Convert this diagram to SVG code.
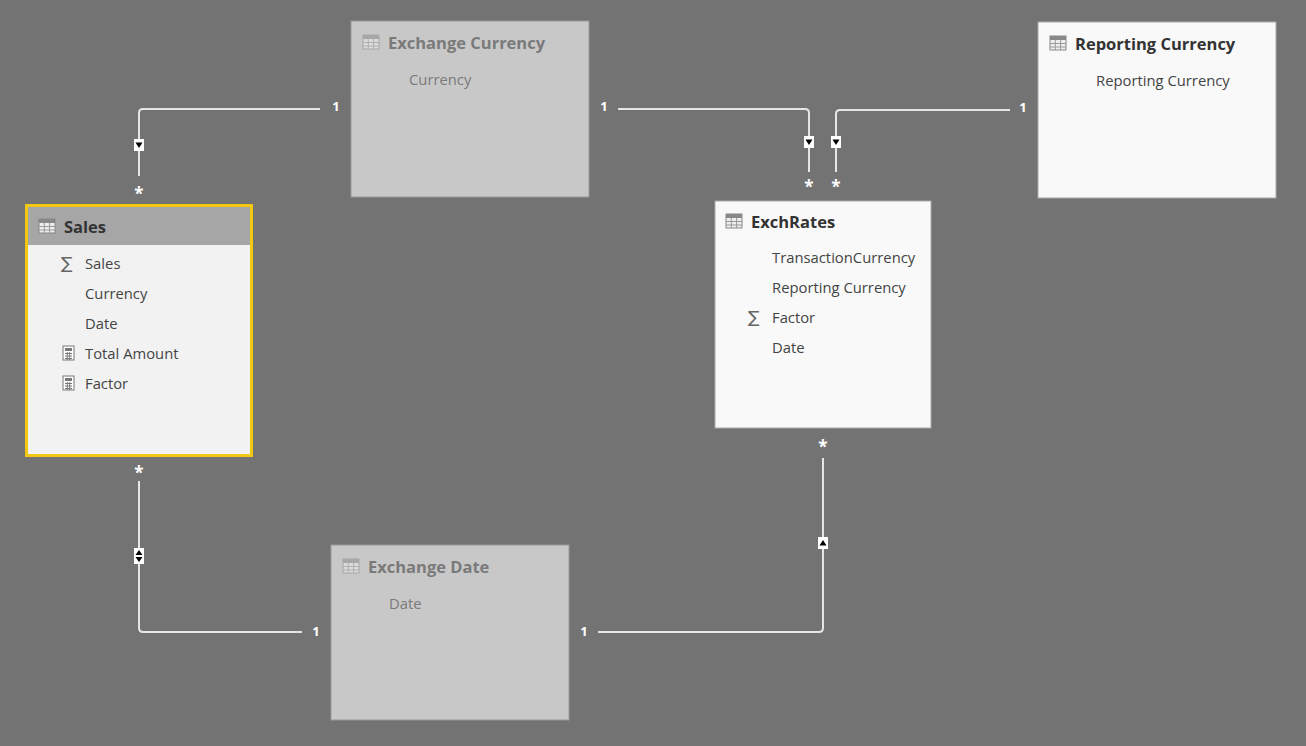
<svg xmlns="http://www.w3.org/2000/svg" width="1306" height="746" viewBox="0 0 1306 746">
<style>
.t{font-family:"Open Sans","Noto Sans",sans-serif;}
.title{font-size:16.5px;font-weight:bold;fill:#333;}
.dim .title{fill:#7a7a7a;}
.f{font-size:14.8px;fill:#444;}
.dim .f{fill:#7a7a7a;}
.ln{fill:none;stroke:#e6e6e6;stroke-width:2;}
.lbl{font-family:"Open Sans","Noto Sans",sans-serif;font-size:13px;font-weight:bold;fill:#fff;text-anchor:middle;}
.st{font-size:17px;}
</style>
<defs>
<g id="tbl"><rect x="0" y="0" width="16" height="14" fill="#eee" stroke="#888"/><rect x="0" y="0" width="16" height="4" fill="#888"/><path d="M0 7.5H16M0 11H16M5.3 4V14M10.6 4V14" stroke="#999" stroke-width="1"/></g>
<g id="calc"><rect x="0" y="0" width="11" height="14" fill="#fff" stroke="#777"/><rect x="2" y="2" width="7" height="3" fill="#777"/><path d="M2 7.5H9M2 10H9M2 12.5H9M4.3 6V14M6.7 6V14" stroke="#777"/></g>
<g id="dn"><rect x="-5" y="-6" width="10" height="12" fill="#fff"/><path d="M-3.5 -2.5H3.5L0 3Z" fill="#000"/></g>
<g id="up"><rect x="-5" y="-6" width="10" height="12" fill="#fff"/><path d="M-3.5 2.5H3.5L0 -3Z" fill="#000"/></g>
</defs>
<rect width="1306" height="746" fill="#737373"/>
<g id="connectors">
<path class="ln" d="M320 109H143Q139 109 139 113V176"/>
<use href="#dn" x="139" y="145"/>
<text class="lbl" x="336" y="111">1</text><text class="lbl st" x="139" y="200">*</text>
<path class="ln" d="M618 109H805Q809 109 809 113V172"/>
<use href="#dn" x="809" y="142"/>
<text class="lbl" x="604" y="111">1</text><text class="lbl st" x="809" y="193">*</text>
<path class="ln" d="M1010 110H840Q836 110 836 114V172"/>
<use href="#dn" x="836" y="142"/>
<text class="lbl" x="1023" y="112">1</text><text class="lbl st" x="836" y="193">*</text>
<path class="ln" d="M139 481V628Q139 632 143 632H302"/>
<g transform="translate(139 556)"><rect x="-5" y="-8" width="10" height="16" fill="#fff"/><path d="M-3.5 -1H3.5L0 -6Z M-3.5 1H3.5L0 6Z" fill="#000"/></g>
<text class="lbl st" x="139" y="479">*</text><text class="lbl" x="316" y="636">1</text>
<path class="ln" d="M598 632H819Q823 632 823 628V458"/>
<use href="#up" x="823" y="543"/>
<text class="lbl" x="584" y="636">1</text><text class="lbl st" x="823" y="453">*</text>
</g>
<g id="exchange-currency" class="t dim">
<rect x="351" y="21" width="238" height="176" fill="#c8c8c8" stroke="#999"/>
<use href="#tbl" x="363" y="35" opacity="0.5"/>
<text class="title" x="388" y="49">Exchange Currency</text>
<text class="f" x="409" y="85">Currency</text>
</g>
<g id="reporting-currency" class="t">
<rect x="1038" y="22" width="238" height="176" fill="#f9f9f9" stroke="#aaa"/>
<use href="#tbl" x="1050" y="36"/>
<text class="title" x="1075" y="50">Reporting Currency</text>
<text class="f" x="1096" y="86">Reporting Currency</text>
</g>
<g id="sales" class="t">
<rect x="26.5" y="205.5" width="225" height="250" fill="#f2f2f2" stroke="#f2c811" stroke-width="3"/>
<rect x="28" y="207" width="222" height="38" fill="#a6a6a6"/>
<use href="#tbl" x="39" y="219"/>
<text class="title" x="64" y="233">Sales</text>
<text x="61" y="269" style="font-family:'DejaVu Sans',sans-serif;font-size:17px;fill:#666">∑</text>
<text class="f" x="85" y="269">Sales</text>
<text class="f" x="85" y="299">Currency</text>
<text class="f" x="85" y="329">Date</text>
<use href="#calc" x="63" y="346"/>
<text class="f" x="85" y="359">Total Amount</text>
<use href="#calc" x="63" y="376"/>
<text class="f" x="85" y="389">Factor</text>
</g>
<g id="exchrates" class="t">
<rect x="715" y="201" width="216" height="227" fill="#f9f9f9" stroke="#aaa"/>
<use href="#tbl" x="726" y="214"/>
<text class="title" x="751" y="228">ExchRates</text>
<text class="f" x="772" y="263">TransactionCurrency</text>
<text class="f" x="772" y="293">Reporting Currency</text>
<text x="748" y="323" style="font-family:'DejaVu Sans',sans-serif;font-size:17px;fill:#666">∑</text>
<text class="f" x="772" y="323">Factor</text>
<text class="f" x="772" y="353">Date</text>
</g>
<g id="exchange-date" class="t dim">
<rect x="331" y="545" width="238" height="175" fill="#c8c8c8" stroke="#999"/>
<use href="#tbl" x="343" y="559" opacity="0.5"/>
<text class="title" x="368" y="573">Exchange Date</text>
<text class="f" x="389" y="609">Date</text>
</g>
</svg>
